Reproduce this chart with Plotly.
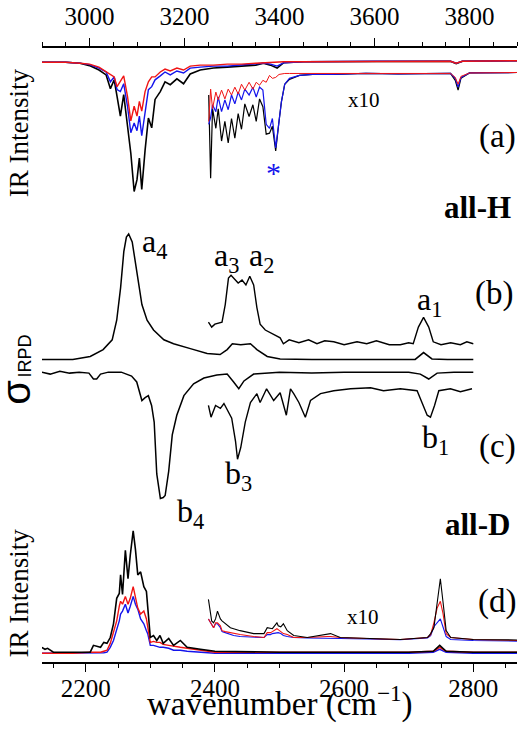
import plotly.graph_objects as go

# ---- data (arbitrary intensity units) ----

# (a) all-H IR intensity, top axis (cm-1)
a_wn = [2900, 2950, 2980, 3000, 3020, 3035, 3044, 3052, 3058, 3065, 3072, 3080, 3087, 3094,
        3100, 3105, 3110, 3117, 3124, 3131, 3138, 3149, 3159, 3170, 3184, 3198, 3212, 3233,
        3261, 3290, 3320, 3350, 3366, 3381, 3395, 3409, 3450, 3600, 3760, 3772, 3785, 3900]
a_black = [0, 0, 1, 3.5, 8, 13, 27, 18, 35, 55, 33, 63, 93, 132, 120, 98, 130, 90, 57, 67, 38,
           30, 20, 23, 17, 22, 12, 8, 6, 5, 4, 3, 1, 3, 6, 0.5, -0.5, -1, -1, 1.5, -1, -1.5]
a_blue = [0, 0, 1, 2.5, 6, 10, 20, 15, 28, 30, 22, 45, 72, 62, 70, 55, 75, 50, 28, 25, 18,
          14, 10, 13, 9, 11, 6, 5, 4, 4, 3, 2, 1, 2, 4, 0.5, -0.5, -1, -1, 1, -1, -1.5]
a_red = [0, 0, 1, 2, 5, 10, 13, 15, 25, 20, 14, 35, 60, 45, 55, 40, 50, 30, 20, 15, 15,
         10, 7, 9, 6, 8, 4, 3, 3, 2, 2, 1, 0.5, 0, 0, -0.5, -0.5, -1, -1, 1, -1, -1.5]

a10_wn = [3251, 3255, 3259, 3266, 3271, 3278, 3285, 3292, 3299, 3306, 3313, 3320, 3327, 3336,
          3344, 3351, 3358, 3365, 3372, 3379, 3385, 3392, 3399, 3404, 3411, 3421, 3442, 3470,
          3512, 3582, 3650, 3700, 3760, 3770, 3776, 3782, 3800, 3900]
a10_black = [22, 107, 36, 56, 36, 69, 49, 71, 46, 66, 41, 57, 31, 44, 32, 49, 26, 34, 62, 61,
             54, 79, 49, 29, 11, 6, 2, 1, 1, 0, 0.5, 0, 0, 7, 17, 5, -0.5, -1]
a10_blue = [52, 45, 32, 39, 24, 39, 27, 37, 22, 31, 19, 27, 16, 22, 14, 24, 14, 17, 52, 56,
            46, 76, 49, 29, 11, 5, 2, 1, 1, 0, 0.5, 0, 0, 5, 14, 4, -0.5, -1]
a10_red = [49, 16, 36, 19, 27, 17, 26, 16, 22, 14, 21, 11, 17, 9, 16, 9, 12, 7, 9, 2,
           5, 4, 1, 0.5, 0, 0, 0, 0, 0, 0, 0.5, 0, 0, 4, 11, 3, -0.5, -1]

# (b) sigma_IRPD, bottom axis (cm-1)
b_wn = [2132, 2180, 2207, 2227, 2241, 2248, 2254, 2259, 2263, 2266.5, 2272, 2277, 2282, 2287,
        2295, 2305, 2321, 2336, 2362, 2388, 2408, 2419, 2427, 2440, 2455, 2465, 2481, 2501,
        2550, 2650, 2710, 2723, 2736, 2760, 2800]
b_sig = [0, 0, 3, 10, 20, 40, 73, 110, 125, 128, 120, 100, 80, 56, 40, 30, 20, 16, 11, 6, 5,
         10, 16, 15, 16, 10, 3, 0.5, 0, 0, 0, 7, 0.5, 0, 0]

b10_wn = [2390, 2395, 2400, 2411, 2416, 2421, 2425, 2431, 2436, 2442, 2448, 2454, 2460, 2465,
          2470, 2478, 2491, 2501, 2506, 2515, 2530, 2545, 2558, 2570, 2584, 2600, 2620, 2635,
          2650, 2670, 2687, 2700, 2707, 2715, 2723, 2731, 2738, 2750, 2765, 2780, 2790, 2800]
b10_sig = [22, 17, 20, 22, 40, 67, 70, 65, 62, 65, 60, 69, 60, 37, 20, 14, 9, 6, 0, 4, 1, 4,
           0, 3, 2, -1, 2, 0, 3, -1, -1, 1, 0, 17, 27, 17, 2, -1, 1, -1, 2, 0]

# (c) sigma_IRPD (negative), bottom axis
c_wn = [2132, 2145, 2160, 2175, 2190, 2205, 2212, 2217, 2223, 2235, 2255, 2271, 2279, 2287,
        2292, 2297, 2302, 2306, 2310, 2315.6, 2320, 2323, 2328.5, 2334, 2341, 2352, 2367, 2383,
        2403, 2419, 2429, 2437, 2445, 2460, 2500, 2550, 2600, 2650, 2700, 2718, 2731, 2744,
        2770, 2800]
c_sig = [0, 2, -1, 1, 0, 1, 7, 7, 2, 0, 0, 4, 10, 29, 26, 24, 34, 51, 104, 129, 128, 126, 101,
         64, 44, 24, 12, 6, 3, 2, 10, 17, 9, 2, 0, 1, 0, 0, 0, 2, 7, 1, 0, 0]

c10_wn = [2390, 2394, 2401, 2408.5, 2414, 2421, 2426, 2432, 2435, 2440, 2447, 2455, 2465, 2470,
          2480, 2491, 2501, 2510.6, 2517, 2522, 2530, 2540, 2548, 2563.5, 2584, 2610, 2641,
          2661, 2687, 2713, 2721, 2728.6, 2733.7, 2740, 2746.6, 2764.6, 2780, 2798]
c10_sig = [17, 29, 17, 20, 15, 24, 30, 54, 72, 60, 34, 14, 5, 14, 0, 12, 4, 27, 0, 5, 14, 29,
           12, 5, 2, 0, -1, 2, 0, 2, 14, 27, 29, 17, 2, 0, 3, 0]

# (d) all-D IR intensity, bottom axis
d_wn = [2132, 2137, 2141, 2150, 2180, 2207, 2212, 2223, 2228, 2233, 2238, 2243, 2248, 2252,
        2254, 2257, 2261.4, 2265.5, 2269, 2273.5, 2277, 2280.6, 2285, 2290, 2294, 2296, 2300,
        2305, 2310, 2315, 2320, 2328.5, 2336, 2346.5, 2357, 2377.5, 2400, 2500, 2600, 2700,
        2738, 2748, 2758, 2800, 2868]
d_black = [5, 3, 4, 0, 0, 0, 7, 5, 10, 9, 15, 29, 55, 60, 79, 59, 104, 75, 99, 124, 105, 79,
           82, 67, 62, 45, 15, 17, 12, 17, 9, 14, 7, 12, 5, 3, 1, 0, 0, 0, 1, 7, 1, 0, 0]
d_red = [-1, -1, -1, -1, -1, 0, 0, 0, 1, 2, 9, 22, 32, 47, 52, 49, 57, 49, 55, 67, 55, 45, 39,
         42, 34, 25, 10, 11, 10, 10, 8, 7, 6, 5, 4, 2, 0, 0, 0, 0, 1, 5, 1, 0, 0]
d_blue = [-1, -1, -1, -1, -1, -1, -1, -1, -0.5, 0, 5, 12, 22, 32, 39, 42, 49, 40, 47, 57, 49,
          44, 34, 29, 22, 19, 7, 7, 6, 5, 5, 4, 2, 2, 1, 0, -1, -1, -1, -1, 0, 3, 0, -1, -1]

d10_wn = [2390, 2395, 2398, 2401, 2404, 2408.5, 2411, 2416, 2424, 2429, 2439, 2460, 2470, 2476,
          2481, 2486, 2489, 2496, 2498, 2502, 2506, 2512, 2522, 2543, 2563, 2574, 2579, 2594,
          2635, 2687, 2729, 2734, 2739, 2744, 2749, 2753, 2758, 2765, 2800, 2868]
d10_black = [42, 20, 18, 22, 30, 22, 20, 17, 13, 12, 10, 7, 7, 7, 13, 12, 12, 18, 15, 14, 17,
             10, 5, 3, 5, 6, 7, 3, 2, 1, 3, 7, 13, 40, 63, 40, 10, 3, 1, 0.5]
d10_red = [22, 16, 13, 18, 18, 15, 10, 9, 8, 7, 6, 4, 3, 3, 8, 8, 9, 12, 11, 9, 7, 6, 3, 3,
           4, 4, 4, 3, 2, 1, 3, 6, 18, 33, 40, 28, 7, 3, 1, 0]
d10_blue = [22, 16, 13, 17, 17, 13, 9, 8, 6, 5, 4, 3, 3, 3, 6, 6, 7, 8, 8, 7, 5, 4, 3, 2.5,
            2.5, 2.5, 2.3, 2, 1.5, 0.7, 2.5, 5, 14, 18, 22, 14, 4, 1, 0, -0.7]

# ---- layout / style ----
SERIF = "Liberation Serif, Times New Roman, serif"
SANS = "Liberation Sans, Arial, sans-serif"
BLACK, RED, BLUE = "#000000", "#f01414", "#1414ec"
H_RANGE = [2900, 3900]
D_RANGE = [2900 / 1.36, 3900 / 1.36]

# baselines of the stacked spectra (y units)
BASE = dict(a=612.5, a10=601, b=309, b10=325, c=296, c10=279, d=10, d10=22)

fig = go.Figure()


def add_line(x, sig, base, sign, color, width, xaxis="x"):
    fig.add_trace(go.Scatter(
        x=x, y=[base + sign * s for s in sig], mode="lines", xaxis=xaxis, yaxis="y",
        line=dict(color=color, width=width), hoverinfo="skip", showlegend=False))


# (a) all-H, plotted downwards on the top axis
add_line(a_wn, a_black, BASE["a"], -1, BLACK, 1.6, "x2")
add_line(a_wn, a_blue, BASE["a"], -1, BLUE, 1.4, "x2")
add_line(a_wn, a_red, BASE["a"], -1, RED, 1.4, "x2")
add_line(a10_wn, a10_black, BASE["a10"], -1, BLACK, 1.2, "x2")
add_line(a10_wn, a10_blue, BASE["a10"], -1, BLUE, 1.2, "x2")
add_line(a10_wn, a10_red, BASE["a10"], -1, RED, 1.0, "x2")

# (b) and (c)
add_line(b_wn, b_sig, BASE["b"], 1, BLACK, 1.5)
add_line(b10_wn, b10_sig, BASE["b10"], 1, BLACK, 1.4)
add_line(c_wn, c_sig, BASE["c"], -1, BLACK, 1.5)
add_line(c10_wn, c10_sig, BASE["c10"], -1, BLACK, 1.4)

# (d) all-D
add_line(d_wn, d_blue, BASE["d"], 1, BLUE, 1.4)
add_line(d_wn, d_red, BASE["d"], 1, RED, 1.4)
add_line(d_wn, d_black, BASE["d"], 1, BLACK, 1.6)
add_line(d10_wn, d10_blue, BASE["d10"], 1, BLUE, 1.1)
add_line(d10_wn, d10_red, BASE["d10"], 1, RED, 1.1)
add_line(d10_wn, d10_black, BASE["d10"], 1, BLACK, 1.1)

axis_common = dict(
    showline=True, linecolor=BLACK, linewidth=1.6, showgrid=False, zeroline=False,
    ticks="outside", ticklen=8, tickwidth=1.4, tickcolor=BLACK, dtick=200,
    minor=dict(dtick=50, ticks="outside", ticklen=4, tickwidth=1.2, tickcolor=BLACK),
    tickfont=dict(family=SERIF, size=25, color=BLACK),
)

fig.update_layout(
    width=520, height=741,
    margin=dict(l=42, r=3, t=35, b=79),
    paper_bgcolor="white", plot_bgcolor="white",
    xaxis=dict(range=D_RANGE, tick0=2200, anchor="y", side="bottom",
               ticklabelstandoff=-5, **axis_common),
    xaxis2=dict(range=H_RANGE, tick0=3000, anchor="y", side="top", overlaying="x",
                ticklabelstandoff=3, **axis_common),
    yaxis=dict(range=[0, 627], visible=False, fixedrange=True),
)


def label(text, x, y, size, angle=0, bold=False, color=BLACK, family=SERIF,
          xanchor="center", yanchor="middle"):
    if bold:
        text = "<b>" + text + "</b>"
    fig.add_annotation(text=text, x=x, y=y, xref="paper", yref="paper", showarrow=False,
                       textangle=angle, xanchor=xanchor, yanchor=yanchor,
                       font=dict(family=family, size=size, color=color))


def px_x(p):
    return (p - 42) / 475


def px_y(p):
    return (662 - p) / 627


# axis titles
label("wavenumber (cm<sup>−1</sup>)", px_x(280), px_y(702), 33)
label("IR Intensity", px_x(19), px_y(122), 27, angle=-90)
label("IR Intensity", px_x(19), px_y(592), 27, angle=-90)
label("σ", px_x(16), px_y(387), 40, angle=-90, family=SANS)
label("IRPD", px_x(25), px_y(350), 18, angle=-90, family=SANS)

# panel tags
label("(a)", px_x(497), px_y(125), 33)
label("all-H", px_x(477), px_y(198), 31, bold=True)
label("(b)", px_x(494), px_y(286), 33)
label("(c)", px_x(497), px_y(442), 33)
label("all-D", px_x(477), px_y(522), 31, bold=True)
label("(d)", px_x(497), px_y(600), 33)
label("x10", px_x(364), px_y(88), 21)
label("x10", px_x(363), px_y(616), 21)
label("*", px_x(273), px_y(162), 30, color=BLUE)

# band assignments
label("a<sub>4</sub>", px_x(140), px_y(235), 32, xanchor="left")
label("a<sub>3</sub>", px_x(212), px_y(249), 32, xanchor="left")
label("a<sub>2</sub>", px_x(247), px_y(249), 32, xanchor="left")
label("a<sub>1</sub>", px_x(415), px_y(294), 32, xanchor="left")
label("b<sub>4</sub>", px_x(175), px_y(510), 32, xanchor="left")
label("b<sub>3</sub>", px_x(223), px_y(472), 32, xanchor="left")
label("b<sub>1</sub>", px_x(420), px_y(435), 32, xanchor="left")

fig.write_html(
    "out.html",
    config={"displayModeBar": False},
    post_script="document.body.style.margin='0';document.body.style.overflow='hidden';",
)
